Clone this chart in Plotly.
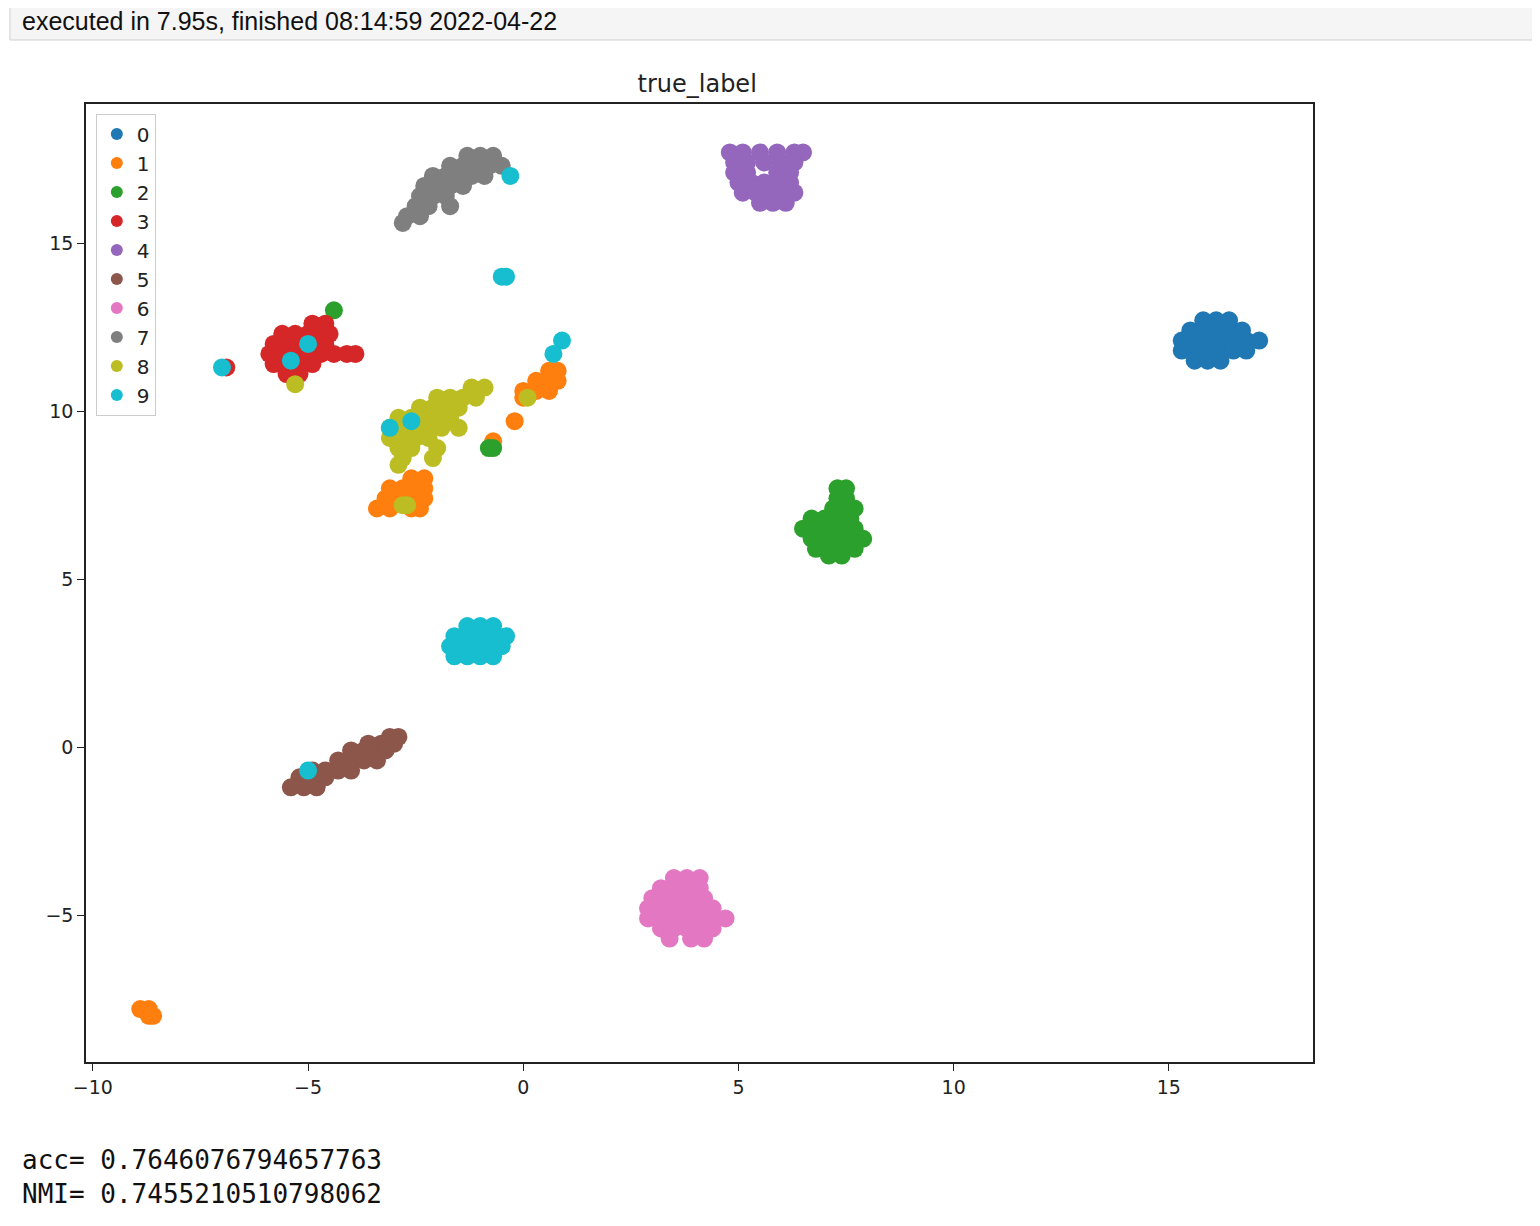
import plotly.graph_objects as go

labels = [str(i) for i in range(10)]
colors = ["#1f77b4", "#ff7f0e", "#2ca02c", "#d62728", "#9467bd",
          "#8c564b", "#e377c2", "#7f7f7f", "#bcbd22", "#17becf"]

# each cluster: rows of (y, [x values]) plus extra single points
c0_rows = [(12.7, [15.8, 16.1, 16.4]), (12.4, [15.5, 15.8, 16.1, 16.4, 16.7]),
           (12.1, [15.3, 15.6, 15.9, 16.2, 16.5, 16.8, 17.1]),
           (11.8, [15.3, 15.6, 15.9, 16.2, 16.5, 16.8]), (11.5, [15.6, 15.9, 16.2])]
c1_rows = [(8.0, [-2.6, -2.3]), (7.7, [-3.1, -2.8, -2.5, -2.3]), (7.4, [-3.2, -2.9, -2.6, -2.3]),
           (7.1, [-3.4, -3.1, -2.6, -2.4]),
           (11.2, [0.6, 0.8]), (10.9, [0.3, 0.6, 0.8]), (10.6, [0.0, 0.3, 0.6]), (10.4, [-0.0]),
           (9.7, [-0.2]), (9.1, [-0.7]), (-7.8, [-8.9, -8.7]), (-8.0, [-8.7, -8.6])]
c2_rows = [(7.7, [7.3, 7.5]), (7.4, [7.3, 7.5]), (7.1, [7.2, 7.5, 7.7]),
           (6.8, [6.7, 7.0, 7.3, 7.6]), (6.5, [6.5, 6.8, 7.1, 7.4, 7.7]),
           (6.2, [6.7, 7.0, 7.3, 7.6, 7.9]), (5.9, [6.8, 7.1, 7.4, 7.7]), (5.7, [7.1, 7.4]),
           (13.0, [-4.4]), (8.9, [-0.8, -0.7])]
c3_rows = [(12.6, [-4.9, -4.6]), (12.3, [-5.6, -5.3, -5.0, -4.7, -4.5]),
           (12.0, [-5.8, -5.5, -5.2, -4.9, -4.6]),
           (11.7, [-5.9, -5.6, -5.3, -5.0, -4.7, -4.4, -4.1, -3.9]),
           (11.4, [-5.8, -5.5, -5.2, -4.9]), (11.1, [-5.5, -5.2]), (11.3, [-6.9])]
c4_rows = [(17.7, [4.8, 5.1, 5.5, 5.9, 6.3, 6.5]), (17.4, [4.9, 5.2, 5.6, 6.0, 6.3]),
           (17.1, [4.9, 5.2, 5.9, 6.2]), (16.8, [5.0, 5.3, 5.6, 5.9, 6.2]),
           (16.5, [5.1, 5.4, 5.7, 6.0, 6.3]), (16.2, [5.5, 5.8, 6.1])]
c5_rows = [(0.3, [-2.9, -3.1]), (0.1, [-3.6, -3.3, -3.0]), (-0.1, [-4.0, -3.7, -3.4, -3.2]),
           (-0.4, [-4.3, -4.0, -3.7, -3.4]), (-0.7, [-4.9, -4.6, -4.3, -4.0]),
           (-0.9, [-5.2, -4.9, -4.6]), (-1.2, [-5.4, -5.1, -4.8])]
c6_rows = [(-3.9, [3.5, 3.8, 4.1]), (-4.2, [3.2, 3.5, 3.8, 4.1]),
           (-4.5, [3.0, 3.3, 3.6, 3.9, 4.2]), (-4.8, [2.9, 3.2, 3.5, 3.8, 4.1, 4.4]),
           (-5.1, [2.9, 3.2, 3.5, 3.8, 4.1, 4.4, 4.7]), (-5.4, [3.2, 3.5, 3.8, 4.1, 4.4]),
           (-5.7, [3.4, 3.9, 4.2])]
c7_rows = [(17.6, [-1.3, -1.0, -0.7]), (17.3, [-1.7, -1.4, -1.1, -0.8, -0.5]),
           (17.0, [-2.1, -1.8, -1.5, -1.2, -0.9]), (16.7, [-2.3, -2.0, -1.7, -1.4]),
           (16.4, [-2.4, -2.1, -1.8]), (16.1, [-2.5, -2.2, -1.7]), (15.8, [-2.7, -2.4]),
           (15.6, [-2.8])]
c8_rows = [(10.7, [-1.2, -0.9]), (10.4, [-2.0, -1.7, -1.4, -1.1]),
           (10.1, [-2.4, -2.1, -1.8, -1.5]), (9.8, [-2.9, -2.6, -2.3, -2.0, -1.7]),
           (9.5, [-3.1, -2.8, -2.5, -2.2, -1.9, -1.5]), (9.2, [-3.1, -2.8, -2.5, -2.2]),
           (8.9, [-2.9, -2.6, -2.0]), (8.6, [-2.8, -2.1]), (8.4, [-2.9]),
           (10.8, [-5.3]), (7.2, [-2.8, -2.7]), (10.4, [0.1])]
c9_rows = [(3.6, [-1.3, -1.0, -0.7]), (3.3, [-1.6, -1.3, -1.0, -0.7, -0.4]),
           (3.0, [-1.7, -1.4, -1.1, -0.8, -0.5]), (2.7, [-1.6, -1.3, -1.0, -0.7]),
           (17.0, [-0.3]), (14.0, [-0.5, -0.4]), (12.1, [0.9]), (11.7, [0.7]),
           (11.5, [-5.4]), (12.0, [-5.0]), (11.3, [-7.0]), (9.5, [-3.1]), (9.7, [-2.6]),
           (-0.7, [-5.0])]

clusters = [c0_rows, c1_rows, c2_rows, c3_rows, c4_rows,
            c5_rows, c6_rows, c7_rows, c8_rows, c9_rows]

fig = go.Figure()
for lab, col, rows in zip(labels, colors, clusters):
    xs, ys = [], []
    for y, xl in rows:
        for x in xl:
            xs.append(x)
            ys.append(y)
    fig.add_trace(go.Scatter(x=xs, y=ys, mode="markers", name=lab,
                             marker=dict(color=col, size=18, line=dict(width=0))))

axis_common = dict(showgrid=False, zeroline=False, showline=True, linecolor="#222",
                   linewidth=1.5, mirror=True, ticks="outside", ticklen=7,
                   tickcolor="#222", tickfont=dict(family="DejaVu Sans", size=19, color="#222"))
fig.update_xaxes(range=[-10.16, 18.35], tickvals=[-10, -5, 0, 5, 10, 15], **axis_common)
fig.update_yaxes(range=[-9.375, 19.14], tickvals=[-5, 0, 5, 10, 15], **axis_common)

fig.update_layout(
    width=1540, height=1226, plot_bgcolor="white", paper_bgcolor="white",
    margin=dict(l=78, r=235, t=96, b=172, autoexpand=False),
    title=dict(text="true_label", x=0.4475, xanchor="center", y=0.9385, yanchor="middle",
               font=dict(family="DejaVu Sans", size=24, color="#222")),
    legend=dict(x=0.008, y=0.99, xanchor="left", yanchor="top", bordercolor="#ccc",
                borderwidth=1, bgcolor="white", itemsizing="constant",
                font=dict(family="DejaVu Sans", size=20, color="#222")),
    shapes=[dict(type="rect", xref="paper", yref="paper", x0=-0.062, x1=1.2, y0=1.0668, y1=1.1065,
                 fillcolor="#f5f5f5", line=dict(color="#cfcfcf", width=1))],
    annotations=[
        dict(text="executed in 7.95s, finished 08:14:59 2022-04-22", xref="paper", yref="paper",
             x=-0.054, y=1.0866, xanchor="left", yanchor="middle", showarrow=False,
             font=dict(family="Liberation Sans", size=25, color="#111")),
        dict(text="acc= 0.7646076794657763<br>NMI= 0.7455210510798062", xref="paper", yref="paper",
             x=-0.054, y=-0.085, xanchor="left", yanchor="top", showarrow=False, align="left",
             font=dict(family="DejaVu Sans Mono", size=26, color="#111")),
    ],
)
fig.write_html("out.html")
